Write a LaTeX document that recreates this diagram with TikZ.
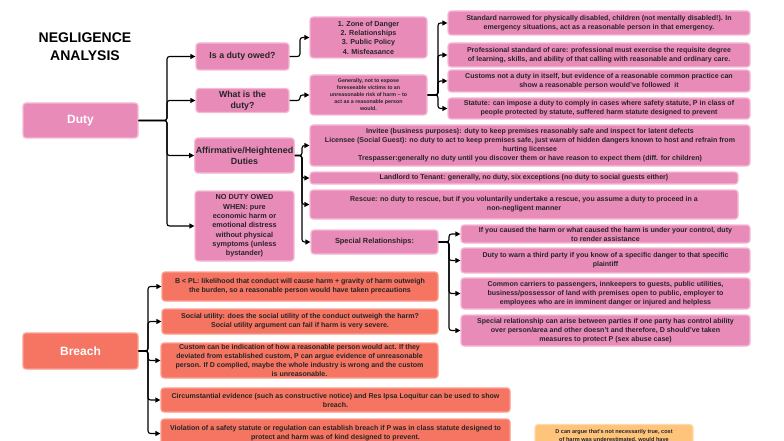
\documentclass[tikz,border=0pt]{standalone}
\usepackage{fontspec}
\setmainfont{Liberation Sans}
\usetikzlibrary{arrows.meta}
\definecolor{pinkF}{HTML}{E98BB9}
\definecolor{pinkD}{HTML}{F6B9D4}
\definecolor{salF}{HTML}{F57562}
\definecolor{salD}{HTML}{FA9E90}
\definecolor{orF}{HTML}{FFC47C}
\definecolor{orD}{HTML}{FFD9A8}
\tikzset{
 box/.style={draw, line width=1.2pt, rounded corners=3pt, align=center, inner sep=1pt, font=\bfseries\fontsize{7.05}{9}\selectfont, text=black!85},
 pbox/.style={box, fill=pinkF, draw=pinkD},
 sbox/.style={box, fill=salF, draw=salD},
 obox/.style={box, fill=orF, draw=orD},
 headbox/.style={font=\bfseries\fontsize{12}{14}\selectfont, text=white},
 qbox/.style={font=\bfseries\fontsize{8.8}{11.5}\selectfont},
 arr/.style={line width=1.1pt, rounded corners=2.5pt, -{Triangle[length=5pt,width=5pt]}},
}
\begin{document}
\begin{tikzpicture}[x=1pt,y=-1pt]
\useasboundingbox (0,0) rectangle (784,441);
\node[font=\bfseries\fontsize{14}{18}\selectfont, align=center] (title) at (85,47) {NEGLIGENCE\\ANALYSIS};
% Duty branch
\node[pbox, headbox, minimum width=115pt, minimum height=35pt] (duty) at (80.5,120.5) {Duty};
\node[pbox, qbox, minimum width=93pt, minimum height=27pt] (q1) at (242.5,56.5) {Is a duty owed?};
\node[pbox, qbox, minimum width=93pt, minimum height=24pt] (q2) at (242.5,100.5) {What is the\\duty?};
\node[pbox, minimum width=117pt, minimum height=41pt, font=\bfseries\fontsize{7.2}{9.3}\selectfont] (zones) at (368.5,37.5) {1. Zone of Danger\\2. Relationships\\3. Public Policy\\4. Misfeasance};
\node[pbox, minimum width=117pt, minimum height=40pt, font=\bfseries\fontsize{5.3}{7}\selectfont] (gen) at (368.5,95) {Generally, not to expose\\foreseeable victims to an\\unreasonable risk of harm -- to\\act as a reasonable person\\would.};
\node[pbox, minimum width=302pt, minimum height=24pt] (r1) at (599,23) {Standard narrowed for physically disabled, children (not mentally disabled!). In\\emergency situations, act as a reasonable person in that emergency.};
\node[pbox, minimum width=302pt, minimum height=24pt] (r2) at (599,55) {Professional standard of care: professional must exercise the requisite degree\\of learning, skills, and ability of that calling with reasonable and ordinary care.};
\node[pbox, minimum width=302pt, minimum height=22pt] (r3) at (599,81) {Customs not a duty in itself, but evidence of a reasonable common practice can\\show a reasonable person would've followed\ \ it};
\node[pbox, minimum width=302pt, minimum height=21pt] (r4) at (599,108.5) {Statute: can impose a duty to comply in cases where safety statute, P in class of\\people protected by statute, suffered harm statute designed to prevent};
\node[pbox, font=\bfseries\fontsize{8.9}{11}\selectfont, minimum width=99pt, minimum height=35pt] (aff) at (244.5,155.5) {Affirmative/Heightened\\Duties};
\node[pbox, minimum width=99pt, minimum height=70pt, font=\bfseries\fontsize{7.3}{9.3}\selectfont] (nodu) at (244.5,226) {NO DUTY OWED\\WHEN: pure\\economic harm or\\emotional distress\\without physical\\symptoms (unless\\bystander)};
\node[pbox, minimum width=440pt, minimum height=41pt] (inv) at (530,145.5) {Invitee (business purposes): duty to keep premises reasonably safe and inspect for latent defects\\Licensee (Social Guest): no duty to act to keep premises safe, just warn of hidden dangers known to host and refrain from\\hurting licensee\\Trespasser:generally no duty until you discover them or have reason to expect them (diff. for children)};
\node[pbox, minimum width=428pt, minimum height=12pt] (land) at (524,178) {Landlord to Tenant: generally, no duty, six exceptions (no duty to social guests either)};
\node[pbox, minimum width=428pt, minimum height=29pt] (resc) at (524,204.5) {Rescue: no duty to rescue, but if you voluntarily undertake a rescue, you assume a duty to proceed in a\\non-negligent manner};
\node[pbox, font=\bfseries\fontsize{7.4}{9}\selectfont, minimum width=127pt, minimum height=24pt] (spec) at (374.5,242) {Special Relationships:};
\node[pbox, minimum width=289pt, minimum height=18pt] (sa) at (605.5,234) {If you caused the harm or what caused the harm is under your control, duty\\to render assistance};
\node[pbox, minimum width=289pt, minimum height=25pt] (sb) at (605.5,260.5) {Duty to warn a third party if you know of a specific danger to that specific\\plaintiff};
\node[pbox, minimum width=289pt, minimum height=31pt] (sc) at (605.5,293.5) {Common carriers to passengers, innkeepers to guests, public utilities,\\business/possessor of land with premises open to public, employer to\\employees who are in imminent danger or injured and helpless};
\node[pbox, minimum width=289pt, minimum height=31pt] (sd) at (605.5,330.5) {Special relationship can arise between parties if one party has control ability\\over person/area and other doesn't and therefore, D should've taken\\measures to protect P (sex abuse case)};
% Breach branch
\node[sbox, headbox, minimum width=115pt, minimum height=36pt] (breach) at (80.5,351) {Breach};
\node[sbox, minimum width=276pt, minimum height=29pt] (b1) at (300,286.5) {B < PL: likelihood that conduct will cause harm + gravity of harm outweigh\\the burden, so a reasonable person would have taken precautions};
\node[sbox, minimum width=276pt, minimum height=25pt] (b2) at (300,321.5) {Social utility: does the social utility of the conduct outweigh the harm?\\Social utility argument can fail if harm is very severe.};
\node[sbox, minimum width=277pt, minimum height=35pt] (b3) at (299.5,360.5) {Custom can be indication of how a reasonable person would act. If they\\deviated from established custom, P can argue evidence of unreasonable\\person. If D complied, maybe the whole industry is wrong and the custom\\is unreasonable.};
\node[sbox, minimum width=349pt, minimum height=24pt] (b4) at (335.5,400) {Circumstantial evidence (such as constructive notice) and Res Ipsa Loquitur can be used to show\\breach.};
\node[sbox, minimum width=349pt, minimum height=29pt] (b5) at (335.5,433.5) {Violation of a safety statute or regulation can establish breach if P was in class statute designed to\\protect and harm was of kind designed to prevent.};
\node[obox, minimum width=158pt, minimum height=22pt, font=\bfseries\fontsize{5.6}{8}\selectfont] (cost) at (614,435.5) {D can argue that's not necessarily true, cost\\of harm was underestimated, would have};
% connectors
\coordinate (dJ) at (167,120.5);
\draw[arr] (duty.east) -- (dJ) |- (q1.west);
\draw[arr] (duty.east) -- (dJ) |- (q2.west);
\draw[arr] (duty.east) -- (dJ) |- (aff.west);
\draw[arr] (duty.east) -- (dJ) |- (nodu.west);
\coordinate (q1J) at (300,56.5);
\draw[arr] (q1.east) -- (q1J) |- (zones.west);
\coordinate (q2J) at (300,100.5);
\draw[arr] (q2.east) -- (q2J) |- (gen.west);
\coordinate (gJ) at (438,95);
\foreach \t in {r1,r2,r3,r4} \draw[arr] (gen.east) -- (gJ) |- (\t.west);
\coordinate (aJ) at (302,155.5);
\foreach \t in {inv,land,resc,spec} \draw[arr] (aff.east) -- (aJ) |- (\t.west);
\coordinate (sJ) at (449,242);
\foreach \t in {sa,sb,sc,sd} \draw[arr] (spec.east) -- (sJ) |- (\t.west);
\coordinate (bJ) at (148,351);
\foreach \t in {b1,b2,b3,b4,b5} \draw[arr] (breach.east) -- (bJ) |- (\t.west);
\end{tikzpicture}
\end{document}
